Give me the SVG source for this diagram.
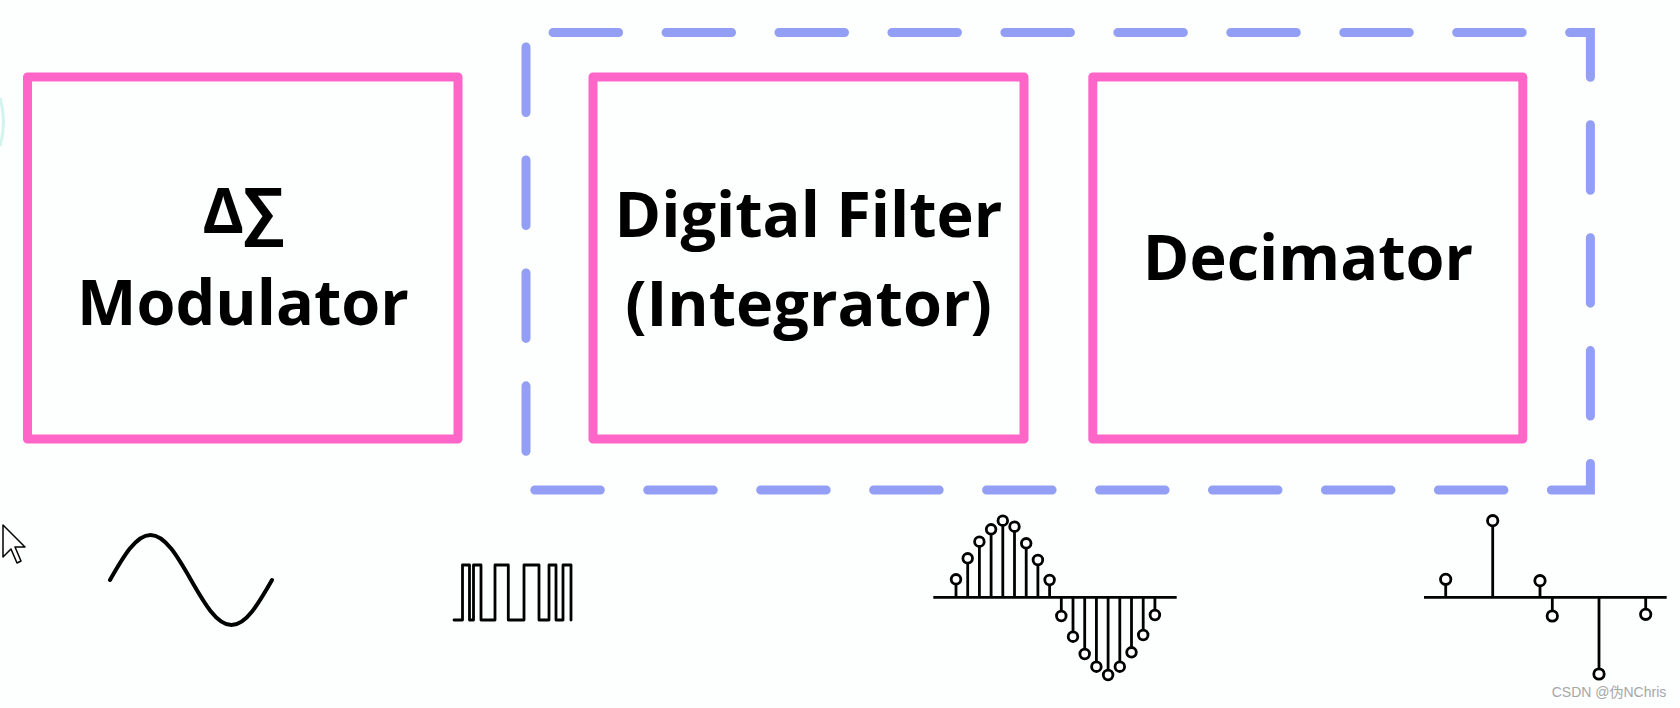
<svg xmlns="http://www.w3.org/2000/svg" width="1680" height="708" viewBox="0 0 1680 708">
<style>
.box{fill:none;stroke:#ff66c8;stroke-width:9;stroke-linejoin:round}
.lbl{font-family:"Open Sans","Noto Sans","DejaVu Sans",sans-serif;font-weight:bold;font-size:63px;fill:#000;text-anchor:middle}
.wave{fill:none;stroke:#000;stroke-linecap:round;stroke-linejoin:round}
.stem{stroke:#000;stroke-width:2.8}
.dot{fill:#fff;stroke:#000;stroke-width:2.8}
.group{fill:none;stroke:#929ff4;stroke-width:9;stroke-linecap:round;stroke-linejoin:miter;stroke-dasharray:65.5 47.45;stroke-dashoffset:85.85}
</style>
<rect x="0" y="0" width="1680" height="708" fill="#fdfefe"/>
<path d="M0,98 Q7,122 0,146" fill="none" stroke="#d2f3ee" stroke-width="3"/>

<g id="filter-decimator-group">
<path class="group" d="M526,32.5 H1590.4 V490 H526 Z"/>
</g>

<g id="modulator">
<rect class="box" x="27.5" y="77" width="430.5" height="362"/>
<text class="lbl" x="243" y="233">Δ∑</text>
<text class="lbl" x="243" y="325">Modulator</text>
</g>

<g id="digital-filter">
<rect class="box" x="593" y="77" width="431" height="362"/>
<text class="lbl" x="808.5" y="237">Digital Filter</text>
<text class="lbl" x="808.5" y="326">(Integrator)</text>
</g>

<g id="decimator">
<rect class="box" x="1092.8" y="77" width="430" height="362"/>
<text class="lbl" x="1308" y="280">Decimator</text>
</g>

<g id="connectors"></g>

<g id="sine-wave">
<path class="wave" stroke-width="4" d="M110,580 C123.2,556.9 135.8,535 150.5,535 C165.2,535 177.8,556.9 191,580 C204.2,603.1 216.8,625 231.5,625 C246.2,625 258.8,603.1 272,580"/>
</g>

<g id="bitstream">
<path class="wave" stroke-width="2.8" d="M454,620 H462.5 V565 H469.5 V620 H473.5 V565 H481 V620 H495 V565 H508.3 V620 H524 V565 H539 V620 H549 V565 H556 V620 H563 V565 H571 V620"/>
</g>

<g id="filtered-samples">
<line class="stem" x1="933.3" y1="597.3" x2="1176.7" y2="597.3"/>
<g>
<line class="stem" x1="956" y1="597.3" x2="956" y2="579.3"/>
<line class="stem" x1="967.7" y1="597.3" x2="967.7" y2="558.3"/>
<line class="stem" x1="979.4" y1="597.3" x2="979.4" y2="541.7"/>
<line class="stem" x1="991.1" y1="597.3" x2="991.1" y2="529.3"/>
<line class="stem" x1="1002.8" y1="597.3" x2="1002.8" y2="520.7"/>
<line class="stem" x1="1014.5" y1="597.3" x2="1014.5" y2="526.7"/>
<line class="stem" x1="1026.2" y1="597.3" x2="1026.2" y2="543.3"/>
<line class="stem" x1="1037.9" y1="597.3" x2="1037.9" y2="560"/>
<line class="stem" x1="1049.6" y1="597.3" x2="1049.6" y2="580"/>
<line class="stem" x1="1061.3" y1="597.3" x2="1061.3" y2="616"/>
<line class="stem" x1="1073" y1="597.3" x2="1073" y2="636.7"/>
<line class="stem" x1="1084.7" y1="597.3" x2="1084.7" y2="654"/>
<line class="stem" x1="1096.4" y1="597.3" x2="1096.4" y2="666.7"/>
<line class="stem" x1="1108.1" y1="597.3" x2="1108.1" y2="675"/>
<line class="stem" x1="1119.8" y1="597.3" x2="1119.8" y2="666.7"/>
<line class="stem" x1="1131.5" y1="597.3" x2="1131.5" y2="652.3"/>
<line class="stem" x1="1143.2" y1="597.3" x2="1143.2" y2="635"/>
<line class="stem" x1="1154.9" y1="597.3" x2="1154.9" y2="615"/>
</g>
<g>
<circle class="dot" cx="956" cy="579.3" r="4.8"/>
<circle class="dot" cx="967.7" cy="558.3" r="4.8"/>
<circle class="dot" cx="979.4" cy="541.7" r="4.8"/>
<circle class="dot" cx="991.1" cy="529.3" r="4.8"/>
<circle class="dot" cx="1002.8" cy="520.7" r="4.8"/>
<circle class="dot" cx="1014.5" cy="526.7" r="4.8"/>
<circle class="dot" cx="1026.2" cy="543.3" r="4.8"/>
<circle class="dot" cx="1037.9" cy="560" r="4.8"/>
<circle class="dot" cx="1049.6" cy="580" r="4.8"/>
<circle class="dot" cx="1061.3" cy="616" r="4.8"/>
<circle class="dot" cx="1073" cy="636.7" r="4.8"/>
<circle class="dot" cx="1084.7" cy="654" r="4.8"/>
<circle class="dot" cx="1096.4" cy="666.7" r="4.8"/>
<circle class="dot" cx="1108.1" cy="675" r="4.8"/>
<circle class="dot" cx="1119.8" cy="666.7" r="4.8"/>
<circle class="dot" cx="1131.5" cy="652.3" r="4.8"/>
<circle class="dot" cx="1143.2" cy="635" r="4.8"/>
<circle class="dot" cx="1154.9" cy="615" r="4.8"/>
</g>
</g>

<g id="decimated-samples">
<line class="stem" stroke-width="3.2" x1="1424" y1="597.3" x2="1666.7" y2="597.3"/>
<line class="stem" stroke-width="3.2" x1="1445.7" y1="597.3" x2="1445.7" y2="579.3"/>
<line class="stem" stroke-width="3.2" x1="1492.7" y1="597.3" x2="1492.7" y2="520.7"/>
<line class="stem" stroke-width="3.2" x1="1540" y1="597.3" x2="1540" y2="580.7"/>
<line class="stem" stroke-width="3.2" x1="1552.3" y1="597.3" x2="1552.3" y2="616"/>
<line class="stem" stroke-width="3.2" x1="1599" y1="597.3" x2="1599" y2="674"/>
<line class="stem" stroke-width="3.2" x1="1645.7" y1="597.3" x2="1645.7" y2="614.3"/>
<circle class="dot" stroke-width="3.2" cx="1445.7" cy="579.3" r="5.2"/>
<circle class="dot" stroke-width="3.2" cx="1492.7" cy="520.7" r="5.2"/>
<circle class="dot" stroke-width="3.2" cx="1540" cy="580.7" r="5.2"/>
<circle class="dot" stroke-width="3.2" cx="1552.3" cy="616" r="5.2"/>
<circle class="dot" stroke-width="3.2" cx="1599" cy="674" r="5.2"/>
<circle class="dot" stroke-width="3.2" cx="1645.7" cy="614.3" r="5.2"/>
</g>

<path d="M3,525 V557 L11,549 L17,563 L21,561 L15,547 H25 Z" fill="#fff" stroke="#000" stroke-width="1.5" stroke-linejoin="round"/>

<text x="1551.7" y="696.7" font-family="'Liberation Sans','Noto Sans CJK SC',sans-serif" font-size="14" fill="#a6a6a6">CSDN @伪NChris</text>
</svg>
